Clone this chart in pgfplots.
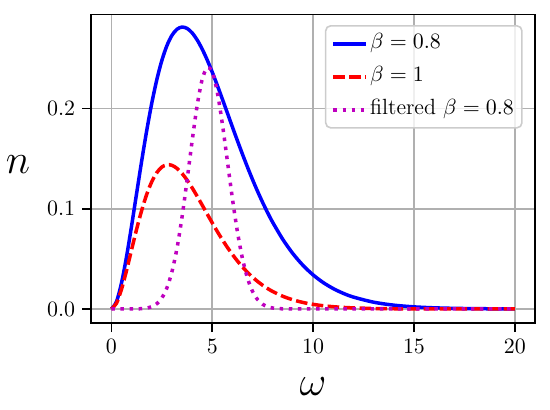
\documentclass[border=0pt]{standalone}
\usepackage{pgfplots}
\usepackage{pgfplotstable}
\pgfplotsset{compat=1.18}
\definecolor{mplmag}{RGB}{191,0,191}
\definecolor{gridgray}{RGB}{176,176,176}
\definecolor{leggray}{RGB}{204,204,204}
\pgfplotstableread{
w b r f
0 0 0 0
0.25 0.00715 0.00557 0
0.5 0.02575 0.01952 0.000001
0.75 0.05199 0.03827 0.000006
1 0.08268 0.05897 0.000028
1.25 0.11517 0.07946 0.0001
1.5 0.14739 0.09822 0.000322
1.75 0.17774 0.11421 0.000904
2 0.20505 0.12687 0.002278
2.25 0.22855 0.13597 0.005209
2.5 0.24779 0.14157 0.010887
2.75 0.26258 0.14391 0.020891
3 0.27293 0.14334 0.036937
3.25 0.27906 0.14030 0.060352
3.5 0.28127 0.13527 0.091315
3.75 0.27996 0.12868 0.128174
4 0.27556 0.12099 0.167136
4.25 0.26854 0.11255 0.202705
4.5 0.25936 0.10372 0.228885
4.75 0.24848 0.09477 0.240835
5 0.23630 0.08592 0.23630
5.25 0.22320 0.07734 0.216333
5.5 0.20954 0.06918 0.184918
5.75 0.19559 0.06150 0.147639
6 0.18161 0.05438 0.110152
6.25 0.16780 0.04785 0.076824
6.5 0.15435 0.04190 0.050110
6.75 0.14138 0.03653 0.030576
7 0.12899 0.03172 0.017457
7.25 0.11725 0.02744 0.009328
7.5 0.10622 0.02365 0.004667
7.75 0.09591 0.02032 0.002186
8 0.08634 0.01741 0.000959
8.5 0.06938 0.01266 0.000152
9 0.05519 0.00912 0.000018
9.5 0.04350 0.00650 0
10 0.03400 0.00460 0
10.5 0.02638 0.00323 0
11 0.02033 0.00225 0
11.5 0.01557 0.00156 0
12 0.01186 0.00108 0
13 0.00677 0.00050 0
14 0.00380 0.00023 0
15 0.00210 0.00010 0
16 0.00115 0.00005 0
17 0.00062 0.00002 0
18 0.00033 0.00001 0
19 0.00017 0 0
20 0.00009 0 0
}\datatable
\begin{document}
\begin{tikzpicture}
\useasboundingbox (0,0) rectangle (275pt,204.5pt);
\begin{axis}[
  at={(45.6pt,43pt)}, anchor=south west,
  scale only axis,
  width=221.9pt, height=154.35pt,
  xmin=-1, xmax=21, ymin=-0.014, ymax=0.294,
  xtick={0,5,10,15,20},
  ytick={0,0.1,0.2},
  yticklabel style={/pgf/number format/fixed, /pgf/number format/fixed zerofill, /pgf/number format/precision=1},
  ticklabel style={font=\fontsize{11}{13}\selectfont},
  tick align=outside,
  major tick length=4.5pt,
  tick style={black, line width=0.8pt},
  xtick pos=bottom, ytick pos=left,
  axis line style={line width=0.8pt},
  grid=major,
  major grid style={color=gridgray, line width=0.8pt},
  xlabel={$\omega$},
  ylabel={$n$},
  label style={font=\fontsize{20}{24}\selectfont},
  xlabel style={at={(axis description cs:0.5,-0.2063)}, anchor=center},
  ylabel style={rotate=-90, at={(axis description cs:-0.1647,0.512)}, anchor=center},
  legend style={at={(0.9723,0.9653)}, anchor=north east,
    draw=leggray, line width=0.8pt, rounded corners=2.5pt,
    fill=white, fill opacity=0.8, text opacity=1,
    font=\fontsize{11}{13}\selectfont,
    inner xsep=3pt, inner ysep=3.5pt,
    row sep=5.5pt,
    nodes={inner xsep=1pt, inner ysep=0pt, text height=8pt, text depth=3pt}},
  legend cell align=left,
  legend image code/.code={\draw[#1] (0pt,0pt) -- (16.5pt,0pt);},
]
\addplot[blue, line width=1.75pt, smooth] table[x=w, y=b] {\datatable};
\addlegendentry{$\beta=0.8$}
\addplot[red, line width=1.75pt, smooth, dash pattern=on 5.8pt off 2.2pt] table[x=w, y=r] {\datatable};
\addlegendentry{$\beta=1$}
\addplot[mplmag, line width=1.75pt, smooth, dash pattern=on 1.75pt off 2.8pt] table[x=w, y=f] {\datatable};
\addlegendentry{filtered $\beta=0.8$}
\end{axis}
\end{tikzpicture}
\end{document}
